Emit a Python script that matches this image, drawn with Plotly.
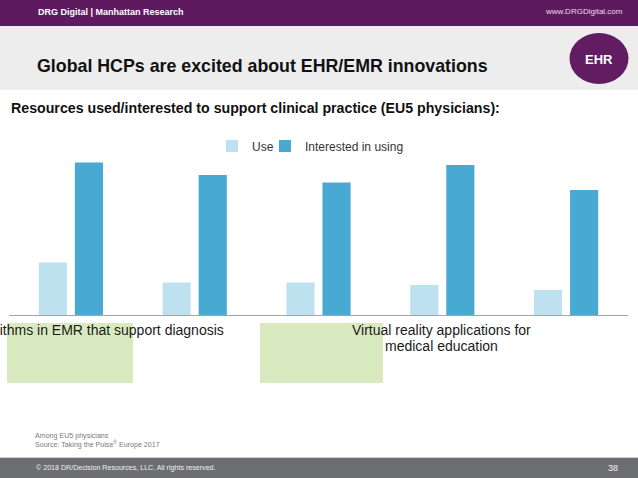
import plotly.graph_objects as go

W, H = 638, 478

categories = ["Algorithms in EMR that support diagnosis", "Resource 2", "Resource 3",
              "Virtual reality applications for medical education", "Resource 5"]
use_values = [21, 13, 13, 12, 10]
interested_values = [61, 56, 53, 60, 50]
series_names = ["Use", "Interested in using"]

label1_lines = ["Algorithms in EMR that support diagnosis"]
label2_lines = ["Virtual reality applications for", "medical education"]

PURPLE = "#5E1A5E"
LIGHT_BLUE = "#BEE1EF"
BLUE = "#48AAD3"


def px(x):
    return x / W


def py(y):
    return 1 - y / H


fig = go.Figure()
fig.add_trace(go.Bar(x=categories, y=use_values, name=series_names[0], legend="legend",
                     marker=dict(color=LIGHT_BLUE, line=dict(width=0))))
fig.add_trace(go.Bar(x=categories, y=interested_values, name=series_names[1], legend="legend2",
                     marker=dict(color=BLUE, line=dict(width=0))))

shapes = []
shapes.append(dict(type="rect", xref="paper", yref="paper", x0=0, x1=1, y0=py(26), y1=1,
                   fillcolor=PURPLE, line=dict(width=0), layer="below"))
shapes.append(dict(type="path", xref="paper", yref="paper",
                   path=f"M {px(36)} {py(25.5)} L {px(52)} {py(25.5)} L {px(36)} {py(40)} Z",
                   fillcolor=PURPLE, line=dict(width=0), layer="below"))
shapes.append(dict(type="rect", xref="paper", yref="paper", x0=0, x1=1, y0=py(90), y1=py(26),
                   fillcolor="#EDEDED", line=dict(width=0), layer="below"))
shapes.append(dict(type="circle", xref="paper", yref="paper", x0=px(569.5), x1=px(628.5),
                   y0=py(84), y1=py(33), fillcolor="#621C62", line=dict(width=0), layer="below"))
shapes.append(dict(type="rect", xref="paper", yref="paper", x0=px(7), x1=px(133),
                   y0=py(383), y1=py(323), fillcolor="#D9EAC1", line=dict(width=0), layer="below"))
shapes.append(dict(type="rect", xref="paper", yref="paper", x0=px(260), x1=px(383),
                   y0=py(383), y1=py(323), fillcolor="#D9EAC1", line=dict(width=0), layer="below"))
shapes.append(dict(type="rect", xref="paper", yref="paper", x0=0, x1=1, y0=0, y1=py(458),
                   fillcolor="#6D6E71", line=dict(width=0), layer="below"))
shapes.append(dict(type="line", xref="paper", yref="paper", x0=0, x1=1, y0=py(457.5), y1=py(457.5),
                   line=dict(color="#CFCFCF", width=1), layer="below"))

F = "Liberation Sans, Arial, sans-serif"
ann = []
ann.append(dict(x=px(36), y=py(12), xref="paper", yref="paper", xanchor="left", yanchor="middle",
                text="<b>DRG Digital | Manhattan Research</b>", showarrow=False,
                font=dict(family=F, size=9, color="white")))
ann.append(dict(x=px(625), y=py(12), xref="paper", yref="paper", xanchor="right", yanchor="middle",
                text="www.DRGDigital.com", showarrow=False,
                font=dict(family=F, size=8, color="#E8DDE8")))
ann.append(dict(x=px(35), y=py(66), xref="paper", yref="paper", xanchor="left", yanchor="middle",
                text="<b>Global HCPs are excited about EHR/EMR innovations</b>", showarrow=False,
                font=dict(family=F, size=17.8, color="#111111")))
ann.append(dict(x=px(599), y=py(59), xref="paper", yref="paper", xanchor="center", yanchor="middle",
                text="<b>EHR</b>", showarrow=False, font=dict(family=F, size=13, color="white")))
ann.append(dict(x=px(9), y=py(108), xref="paper", yref="paper", xanchor="left", yanchor="middle",
                text="<b>Resources used/interested to support clinical practice (EU5 physicians):</b>",
                showarrow=False, font=dict(family=F, size=14.2, color="#111111")))
ann.append(dict(x=px(226), y=py(330), xref="paper", yref="paper", xanchor="right", yanchor="middle",
                text=label1_lines[0], showarrow=False, font=dict(family=F, size=14, color="#1a1a1a")))
for i, line in enumerate(label2_lines):
    ann.append(dict(x=px(442), y=py(330 + 16 * i), xref="paper", yref="paper", xanchor="center",
                    yanchor="middle", text=line, showarrow=False,
                    font=dict(family=F, size=14, color="#1a1a1a")))
ann.append(dict(x=px(33), y=py(440), xref="paper", yref="paper", xanchor="left", yanchor="middle",
                text="Among EU5 physicians<br>Source: Taking the Pulse<sup>®</sup> Europe 2017",
                showarrow=False, align="left", font=dict(family=F, size=7.1, color="#7A7A7A")))
ann.append(dict(x=px(34), y=py(468), xref="paper", yref="paper", xanchor="left", yanchor="middle",
                text="© 2018 DR/Decision Resources, LLC. All rights reserved.", showarrow=False,
                font=dict(family=F, size=7.1, color="#F0F0F0")))
ann.append(dict(x=px(620), y=py(468), xref="paper", yref="paper", xanchor="right", yanchor="middle",
                text="38", showarrow=False, font=dict(family=F, size=9, color="#F5F5F5")))

legend_common = dict(orientation="h", yanchor="middle", xanchor="left", y=py(146),
                     font=dict(family=F, size=12, color="#333333"), bgcolor="rgba(0,0,0,0)",
                     itemclick=False, borderwidth=0)

fig.update_layout(
    width=W, height=H,
    margin=dict(l=0, r=0, t=0, b=0),
    paper_bgcolor="white", plot_bgcolor="rgba(0,0,0,0)",
    barmode="group", bargap=0.4175, bargroupgap=0.22,
    showlegend=True,
    legend=dict(x=px(212), **legend_common),
    legend2=dict(x=px(265), **legend_common),
    xaxis=dict(domain=[px(9), px(628)], showticklabels=False, showgrid=False, zeroline=False,
               showline=True, linecolor="#A6A6A6", linewidth=1, ticks=""),
    yaxis=dict(domain=[py(315), py(150)], range=[0, 66], showticklabels=False, showgrid=False,
               zeroline=False, showline=False),
    shapes=shapes, annotations=ann,
)

fig.write_html("out.html")
